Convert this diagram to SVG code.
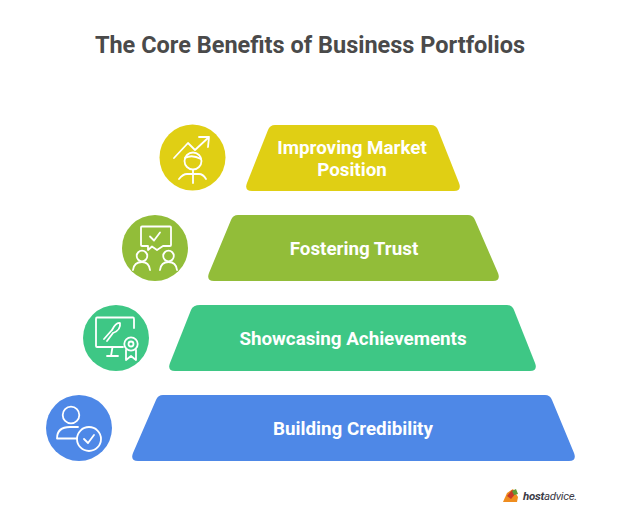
<svg xmlns="http://www.w3.org/2000/svg" width="624" height="532" viewBox="0 0 624 532">
<style>
text{font-family:Roboto,"Liberation Sans",sans-serif;font-weight:700;text-anchor:middle}
.t{font-size:23.500px;fill:#4a4a4a}
.l{font-size:18.800px;fill:#fff}
.i{fill:none;stroke:#fff;stroke-width:1.8;stroke-linecap:round;stroke-linejoin:round}
.y{fill:#e0cf14}.g{fill:#92bd39}.e{fill:#3ec785}.b{fill:#4e88e7}
</style>
<rect width="624" height="532" fill="#fff"/>
<text id="title" class="t" x="310" y="53">The Core Benefits of Business Portfolios</text>
<g id="connectors"/>
<g id="node-market">
<circle class="y" cx="192.500" cy="157.500" r="33"/>
<path class="i" d="M174 158L188 143L195 150L209 137M199 137H209L208 147"/>
<circle class="i" cx="193" cy="161" r="8.500"/>
<path class="i" d="M185 158Q192 154 201 159M193 170V183M179 179Q183 174 187 174H199Q203 174 206 179"/>
<path class="y" d="M275 125H431Q436 125 438 130L459 183Q462 191 454 191H252Q244 191 247 183L268 130Q270 125 275 125Z"/>
<text class="l" x="352" y="154">Improving Market</text>
<text class="l" x="352" y="176">Position</text>
</g>
<g id="node-trust">
<circle class="g" cx="155" cy="248" r="33"/>
<path class="i" d="M142 226.500H170Q171 226.500 171 227.500V245Q171 246 170 246H163L157 250L152 246.500L148 250L148 246H142Q141 246 141 245V227.500Q141 226.500 142 226.500Z"/>
<path class="i" d="M150 236.500L154 240.500L160 232.500"/>
<circle class="i" cx="142" cy="256" r="5.300"/>
<circle class="i" cx="168.500" cy="256" r="5.300"/>
<path class="i" d="M133 270Q134 262 142 262Q149 262 150 270M160 270Q161 262 168.500 262Q176 262 177 270"/>
<path class="g" d="M238 215H468Q473 215 475 220L498 273Q501 281 493 281H214Q206 281 209 273L231 220Q233 215 238 215Z"/>
<text class="l" x="354" y="255">Fostering Trust</text>
</g>
<g id="node-achievements">
<circle class="e" cx="116" cy="338" r="33"/>
<path class="i" d="M134 328V319Q134 317.500 133 317.500H97Q96 317.500 96 319V346Q96 347 97 347H123M107 356H118M111 356L112.500 347"/>
<path class="i" d="M104 339L112 330M107 341L113 333M112 330Q116 322 120 323Q121 330 113 333"/>
<circle class="i" cx="131" cy="344" r="6.700"/>
<circle class="i" cx="131" cy="344" r="2.500"/>
<path class="i" d="M126 350V360L131 356L136 360V350"/>
<path class="e" d="M200 305H507Q512 305 514 310L535 363Q538 371 530 371H175Q167 371 170 363L191 310Q193 305 200 305Z"/>
<text class="l" x="353" y="345">Showcasing Achievements</text>
</g>
<g id="node-credibility">
<circle class="b" cx="79" cy="428" r="33"/>
<circle class="i" cx="71" cy="415" r="8.300"/>
<path class="i" d="M57 438.500Q57 427 70 427H78M57 438.500H77"/>
<circle class="i" cx="89" cy="439" r="12"/>
<path class="i" d="M84 439L88 443L94 435"/>
<path class="b" d="M163 395H545Q550 395 552 400L574 453Q577 461 569 461H138Q130 461 133 453L156 400Q158 395 163 395Z"/>
<text class="l" x="353" y="435">Building Credibility</text>
</g>
<g id="logo">
<path d="M503 502L507 493L513 489L518 497L517 502Z" fill="#ef8d1f"/>
<path d="M507 496L512 490L517 492L511 499Z" fill="#c9382a"/>
<path d="M512 491L516 489L518 494L514 495Z" fill="#5e9c3a"/>
<text x="550" y="500" style="font-size:11.500px;fill:#3a3a46;font-style:italic;letter-spacing:-.3px">host<tspan font-weight="400">advice.</tspan></text>
</g>
</svg>
